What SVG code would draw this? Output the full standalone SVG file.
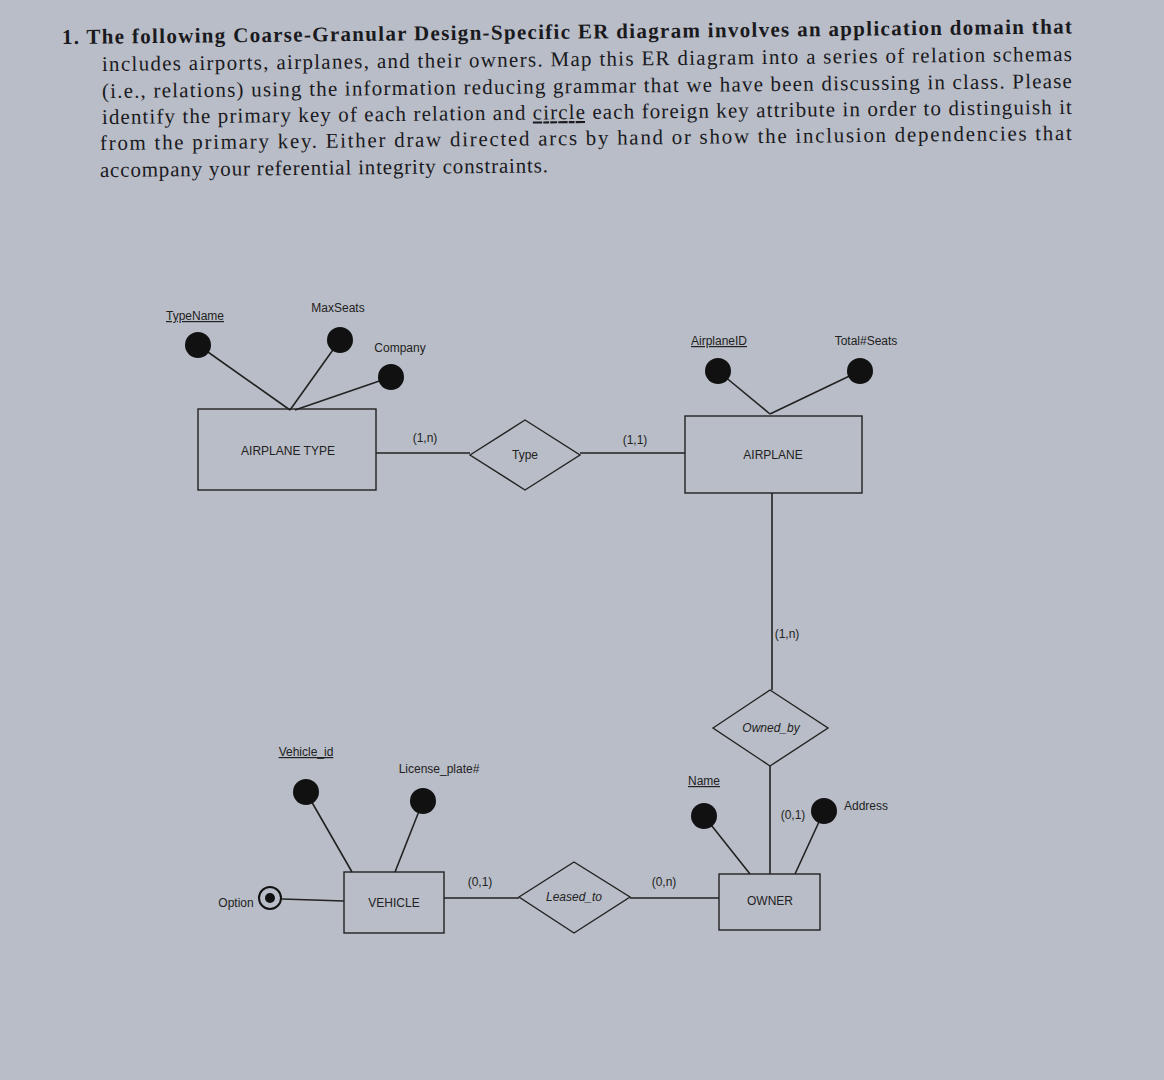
<svg xmlns="http://www.w3.org/2000/svg" width="1164" height="1080" viewBox="0 0 1164 1080">
<style>
.hd{font-family:"Liberation Serif",serif;font-size:21px;fill:#1a1a1e}
.lb{font-family:"Liberation Sans",Arial,sans-serif;font-size:12px;fill:#222}
.it{font-style:italic}
.ul{text-decoration:underline}
.sh{fill:none;stroke:#222;stroke-width:1.4}
.ln{stroke:#222;stroke-width:1.6;fill:none}
.dot{fill:#111}
</style>
<rect width="1164" height="1080" fill="#b9bdc7"/>
<g id="header">
<text class="hd" x="62" y="44" textLength="1010" transform="rotate(-0.6 62 44)" font-weight="bold">1. The following Coarse-Granular Design-Specific ER diagram involves an application domain that</text>
<text class="hd" x="102" y="71" textLength="970" transform="rotate(-0.6 102 71)">includes airports, airplanes, and their owners.  Map this ER diagram into a series of relation schemas</text>
<text class="hd" x="102" y="98" textLength="970" transform="rotate(-0.6 102 98)">(i.e., relations) using the information reducing grammar that we have been discussing in class.  Please</text>
<text class="hd" x="102" y="124" textLength="970" transform="rotate(-0.6 102 124)">identify the primary key of each relation and <tspan class="ul">circle</tspan> each foreign key attribute in order to distinguish it</text>
<text class="hd" x="100" y="150" textLength="972" transform="rotate(-0.6 100 150)">from the primary key.  Either draw directed arcs by hand or show the inclusion dependencies that</text>
<text class="hd" x="100" y="177" textLength="448" transform="rotate(-0.6 100 177)">accompany your referential integrity constraints.</text>
</g>
<g id="connectors">
<path class="ln" d="M198 345 L290 410 M340 340 L290 410 M391 377 L295 410"/>
<path class="ln" d="M376 453 L470 453 M580 453 L685 453"/>
<path class="ln" d="M718 371 L770 414 M860 371 L770 414"/>
<path class="ln" d="M772 493 L772 690 M770 766 L770 874"/>
<path class="ln" d="M704 816 L750 874 M824 811 L795 874"/>
<path class="ln" d="M719 898 L630 898 M519 898 L444 898"/>
<path class="ln" d="M306 792 L352 872 M423 801 L395 872 M282 899 L344 901"/>
<text class="lb" x="425" y="442" text-anchor="middle">(1,n)</text>
<text class="lb" x="635" y="444" text-anchor="middle">(1,1)</text>
<text class="lb" x="787" y="638" text-anchor="middle">(1,n)</text>
<text class="lb" x="793" y="819" text-anchor="middle">(0,1)</text>
<text class="lb" x="664" y="886" text-anchor="middle">(0,n)</text>
<text class="lb" x="480" y="886" text-anchor="middle">(0,1)</text>
</g>
<g id="airplane_type">
<rect class="sh" x="198" y="409" width="178" height="81"/>
<text class="lb" x="288" y="455" text-anchor="middle">AIRPLANE TYPE</text>
</g>
<g id="typename"><circle class="dot" cx="198" cy="345" r="13"/><text class="lb ul" x="195" y="320" text-anchor="middle">TypeName</text></g>
<g id="maxseats"><circle class="dot" cx="340" cy="340" r="13"/><text class="lb" x="338" y="312" text-anchor="middle">MaxSeats</text></g>
<g id="company"><circle class="dot" cx="391" cy="377" r="13"/><text class="lb" x="400" y="352" text-anchor="middle">Company</text></g>
<g id="type"><polygon class="sh" points="470,455 525,420 580,455 525,490"/><text class="lb" x="525" y="459" text-anchor="middle">Type</text></g>
<g id="airplane">
<rect class="sh" x="685" y="416" width="177" height="77"/>
<text class="lb" x="773" y="459" text-anchor="middle">AIRPLANE</text>
</g>
<g id="airplaneid"><circle class="dot" cx="718" cy="371" r="13"/><text class="lb ul" x="719" y="345" text-anchor="middle">AirplaneID</text></g>
<g id="totalseats"><circle class="dot" cx="860" cy="371" r="13"/><text class="lb" x="866" y="345" text-anchor="middle">Total#Seats</text></g>
<g id="owned_by"><polygon class="sh" points="713,728 770,690 828,728 770,766"/><text class="lb it" x="771" y="732" text-anchor="middle">Owned_by</text></g>
<g id="owner">
<rect class="sh" x="719" y="874" width="101" height="56"/>
<text class="lb" x="770" y="905" text-anchor="middle">OWNER</text>
</g>
<g id="name"><circle class="dot" cx="704" cy="816" r="13"/><text class="lb ul" x="704" y="785" text-anchor="middle">Name</text></g>
<g id="address"><circle class="dot" cx="824" cy="811" r="13"/><text class="lb" x="866" y="810" text-anchor="middle">Address</text></g>
<g id="leased_to"><polygon class="sh" points="519,897 574,862 630,897 574,933"/><text class="lb it" x="574" y="901" text-anchor="middle">Leased_to</text></g>
<g id="vehicle">
<rect class="sh" x="344" y="872" width="100" height="61"/>
<text class="lb" x="394" y="907" text-anchor="middle">VEHICLE</text>
</g>
<g id="vehicle_id"><circle class="dot" cx="306" cy="792" r="13"/><text class="lb ul" x="306" y="756" text-anchor="middle">Vehicle_id</text></g>
<g id="license"><circle class="dot" cx="423" cy="801" r="13"/><text class="lb" x="439" y="773" text-anchor="middle">License_plate#</text></g>
<g id="option"><circle cx="270" cy="898" r="11" fill="none" stroke="#111" stroke-width="2"/><circle class="dot" cx="270" cy="898" r="5"/><text class="lb" x="236" y="907" text-anchor="middle">Option</text></g>
</svg>
